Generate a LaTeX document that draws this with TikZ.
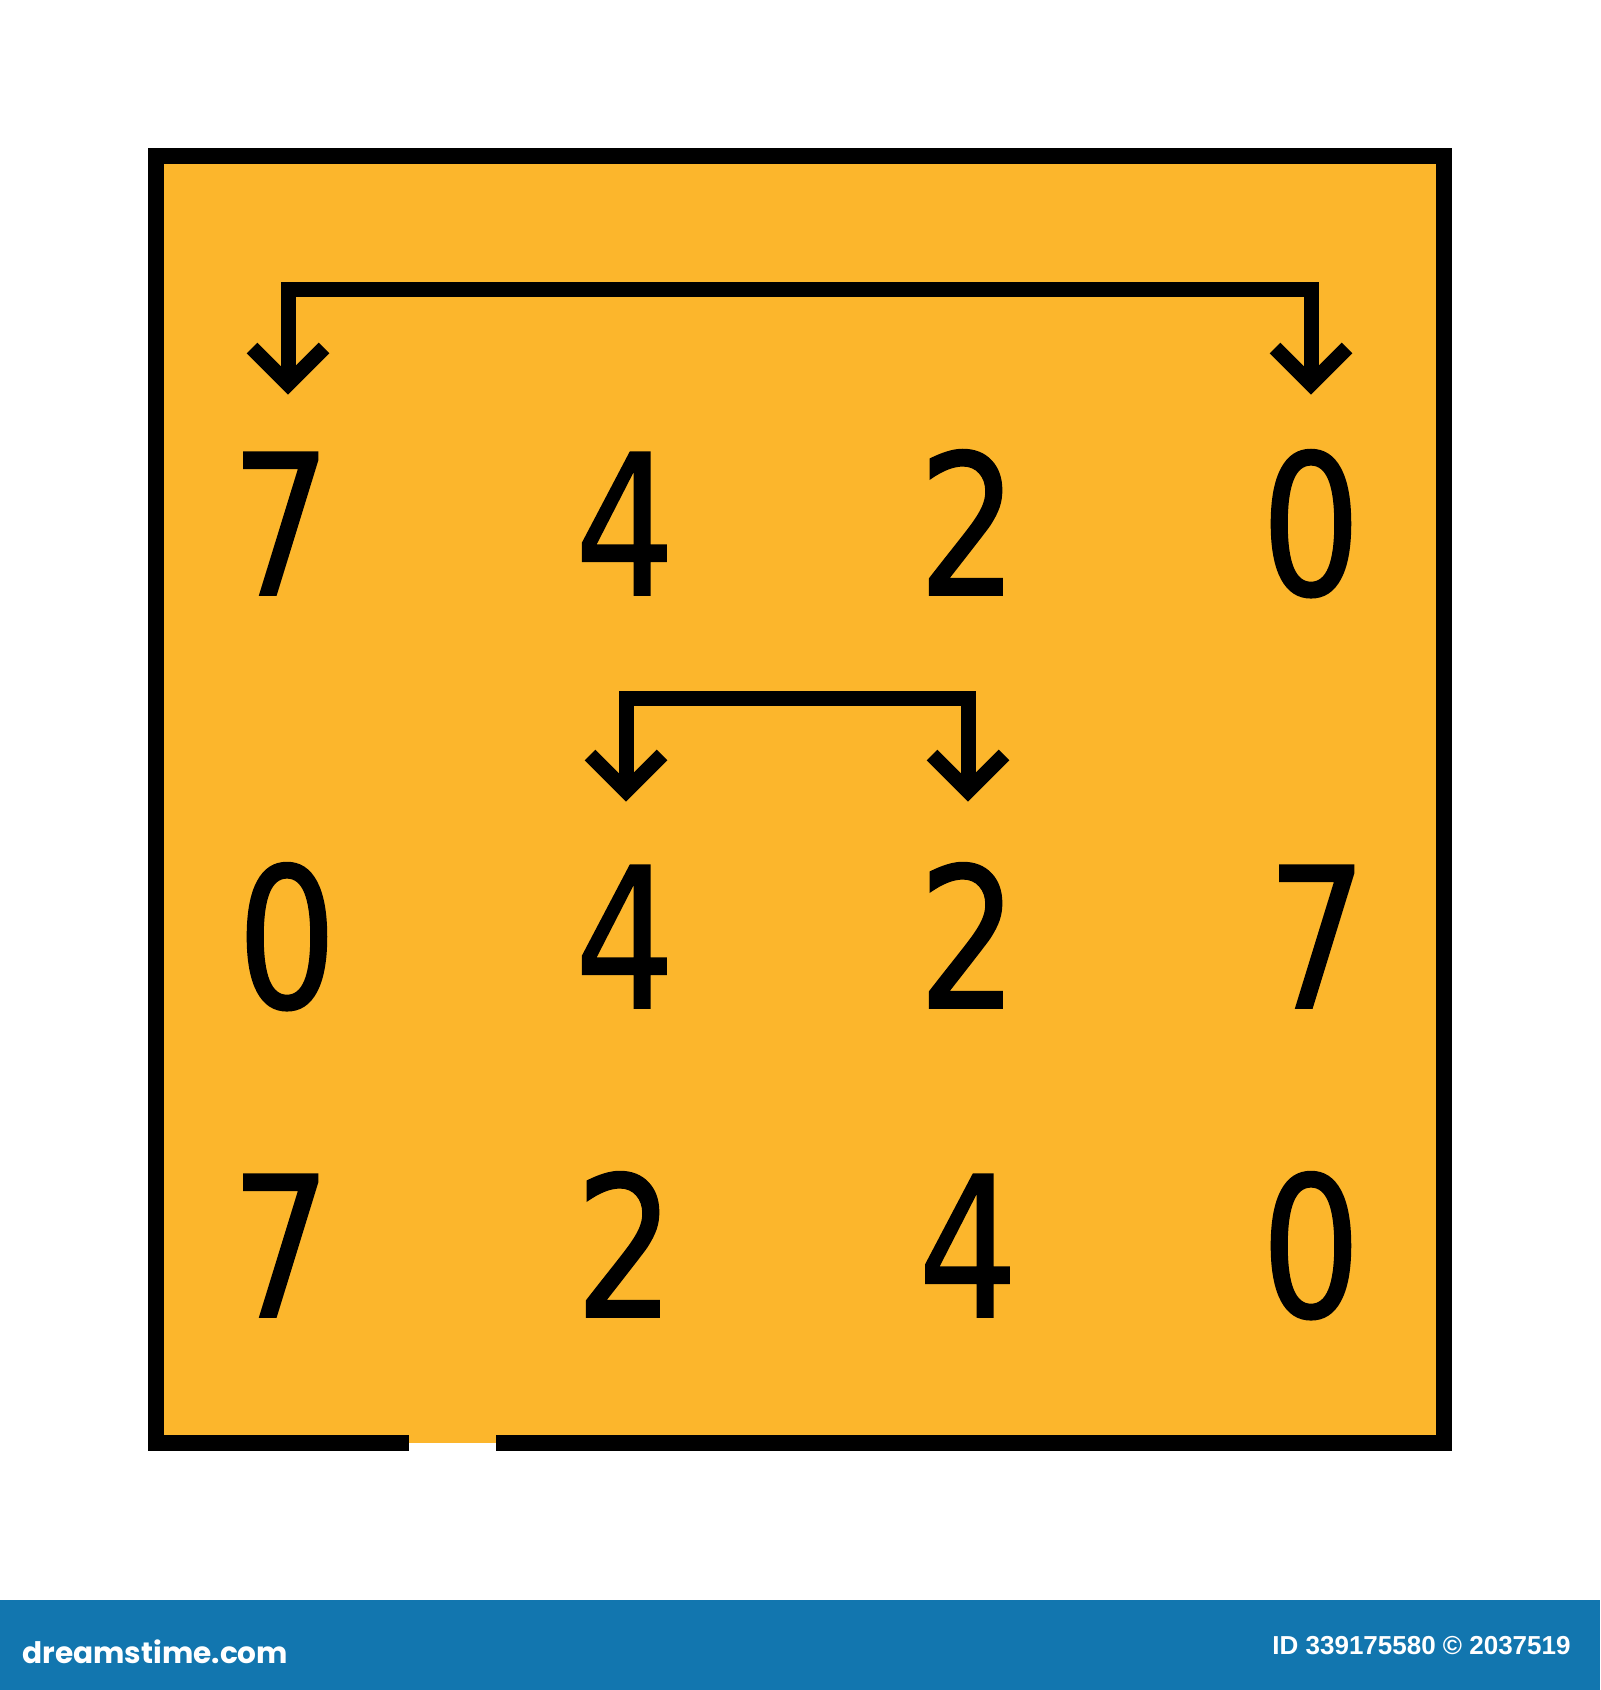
\documentclass[tikz,border=0pt]{standalone}
\usepackage{fontspec}
\newfontfamily\digfont[FakeStretch=0.8,FakeBold=0.8]{DejaVu Sans}
\newfontfamily\popfont{Poppins}
\newfontfamily\idfont{Liberation Sans}
\definecolor{signorange}{HTML}{FCB62C}
\definecolor{bannerblue}{HTML}{1276AF}
\begin{document}
\begin{tikzpicture}[x=0.5pt,y=-0.5pt,
  digit/.style={font=\digfont\fontsize{98}{98}\selectfont, inner sep=0pt, anchor=base},
  frame/.style={line width=8pt, line join=miter, line cap=butt},
  jump/.style={line width=7.5pt, line join=miter, line cap=butt},
  chev/.style={line width=7.5pt, line join=miter, line cap=butt, miter limit=4}
]
\useasboundingbox (0,0) rectangle (1600,1690);
\fill[white] (0,0) rectangle (1600,1690);
% sign panel
\fill[signorange] (156,156) rectangle (1444,1443);
\draw[frame] (409,1443) -- (156,1443) -- (156,156) -- (1444,156) -- (1444,1443) -- (496,1443);
% digits row 1
\node[digit] (r1a) at (281,595) {7};
\node[digit] (r1b) at (625,595) {4};
\node[digit] (r1c) at (968,595) {2};
\node[digit] (r1d) at (1311,595) {0};
% digits row 2
\node[digit] (r2a) at (287,1008) {0};
\node[digit] (r2b) at (625,1008) {4};
\node[digit] (r2c) at (968,1008) {2};
\node[digit] (r2d) at (1317,1008) {7};
% digits row 3
\node[digit] (r3a) at (281,1317) {7};
\node[digit] (r3b) at (625,1317) {2};
\node[digit] (r3c) at (968,1317) {4};
\node[digit] (r3d) at (1311,1317) {0};
% big swap arrow
\coordinate (bigL) at (288,384);
\coordinate (bigR) at (1311,384);
\coordinate (bigbar) at (1311,290);
\draw[jump] (bigL) |- (bigbar) -- (bigR);
\draw[chev] ([shift={(-36,-36)}]bigL) -- (bigL) -- ([shift={(36,-36)}]bigL);
\draw[chev] ([shift={(-36,-36)}]bigR) -- (bigR) -- ([shift={(36,-36)}]bigR);
% small swap arrow
\coordinate (smL) at (626,791);
\coordinate (smR) at (968,791);
\coordinate (smbar) at (968,698);
\draw[jump] (smL) |- (smbar) -- (smR);
\draw[chev] ([shift={(-36,-36)}]smL) -- (smL) -- ([shift={(36,-36)}]smL);
\draw[chev] ([shift={(-36,-36)}]smR) -- (smR) -- ([shift={(36,-36)}]smR);
% banner
\fill[bannerblue] (0,1600) rectangle (1600,1690);
\node[anchor=base west, text=white, inner sep=0pt, font=\popfont\bfseries\fontsize{14.8}{17}\selectfont] (brand) at (22,1663) {dreamstime.com};
\node[anchor=base east, text=white, inner sep=0pt, font=\idfont\bfseries\fontsize{13}{15}\selectfont] (stockid) at (1571,1654) {ID 339175580 © 2037519};
\end{tikzpicture}
\end{document}
